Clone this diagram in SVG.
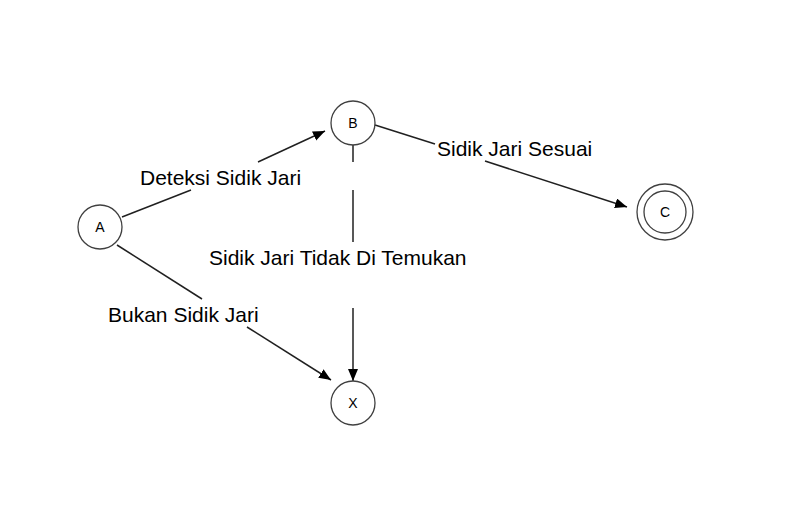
<svg xmlns="http://www.w3.org/2000/svg" width="794" height="526" viewBox="0 0 794 526">
<style>
.node circle{fill:#fff;stroke:#404040;stroke-width:1.3}
.node text{font-family:"Liberation Sans",Arial,sans-serif;font-size:14px;fill:#000;text-anchor:middle}
.edge{stroke:#202020;stroke-width:1.5;fill:none}
.lbl{font-family:"Liberation Sans",Arial,sans-serif;font-size:21px;fill:#000}
</style>
<defs>
<marker id="arr" markerUnits="userSpaceOnUse" markerWidth="14" markerHeight="12" refX="12" refY="5" orient="auto">
<path d="M0,0 L12,5 L0,10 Z" fill="#000"/>
</marker>
</defs>
<rect width="794" height="526" fill="#fff"/>
<g id="connectors">
<g id="e-A-B">
<line class="edge" x1="122" y1="217" x2="191" y2="190"/>
<line class="edge" x1="258" y1="162" x2="325" y2="131" marker-end="url(#arr)"/>
<text class="lbl" x="140" y="185">Deteksi Sidik Jari</text>
</g>
<g id="e-B-C">
<line class="edge" x1="375" y1="125" x2="435" y2="144"/>
<line class="edge" x1="485" y1="161" x2="627" y2="207" marker-end="url(#arr)"/>
<text class="lbl" x="437" y="156">Sidik Jari Sesuai</text>
</g>
<g id="e-B-X">
<line class="edge" x1="353" y1="144" x2="353" y2="162"/>
<line class="edge" x1="353" y1="190" x2="353" y2="242"/>
<line class="edge" x1="353" y1="308" x2="353" y2="381" marker-end="url(#arr)"/>
<text class="lbl" x="209" y="265">Sidik Jari Tidak Di Temukan</text>
</g>
<g id="e-A-X">
<line class="edge" x1="117" y1="245" x2="202" y2="299"/>
<line class="edge" x1="247" y1="327" x2="331" y2="380" marker-end="url(#arr)"/>
<text class="lbl" x="108" y="322">Bukan Sidik Jari</text>
</g>
</g>
<g id="A" class="node"><circle cx="100" cy="227" r="22"/><text x="100" y="232">A</text></g>
<g id="B" class="node"><circle cx="353" cy="123" r="22"/><text x="353" y="128">B</text></g>
<g id="C" class="node"><circle cx="665" cy="212" r="28"/><circle cx="665" cy="212" r="21"/><text x="665" y="217">C</text></g>
<g id="X" class="node"><circle cx="353" cy="403" r="22"/><text x="353" y="408">X</text></g>
</svg>
